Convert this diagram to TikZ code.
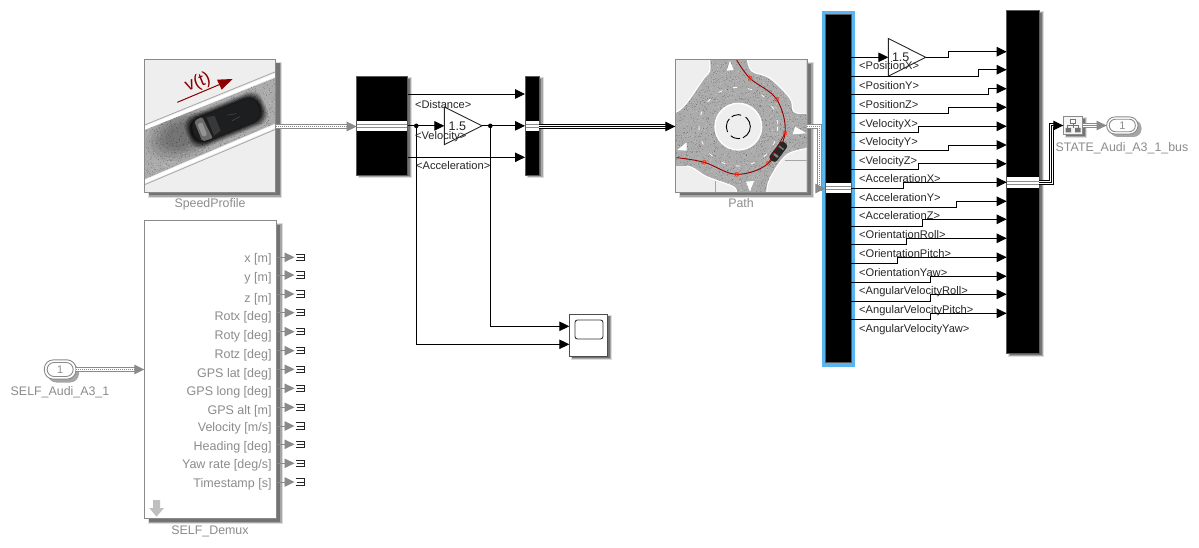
\documentclass[tikz,border=0pt]{standalone}
\usepackage{fontspec}
\setmainfont{Liberation Sans}
\usetikzlibrary{arrows.meta,calc}
\definecolor{fadetxt}{HTML}{8C8C8C}
\definecolor{fadeline}{HTML}{8A8A8A}
\definecolor{lightbg}{HTML}{EEEEEE}
\definecolor{roadg}{HTML}{ABABAB}
\definecolor{selblue}{HTML}{5AB4F0}
\definecolor{darkred}{HTML}{8B0000}
\definecolor{carbody}{HTML}{1C1E20}
\tikzset{
  blockbox/.style={draw=fadeline,line width=1pt,fill=white,inner sep=0pt,outer sep=0pt},
  blackbox/.style={draw=black!65,line width=.8pt,fill=black,inner sep=0pt,outer sep=0pt},
  sig/.style={draw=black,line width=.9pt,-{Triangle[length=10pt,width=9.5pt]}},
  graysig/.style={draw=fadeline,line width=.9pt,-{Triangle[length=10pt,width=9.5pt]}},
  busblack/.style={draw=black,line width=1pt,preaction={draw=black,line width=5pt},preaction={draw=white,line width=3pt}},
  busgray/.style={draw=fadeline,line width=1pt,dash pattern=on 1pt off 1pt,preaction={draw=fadeline,solid,line width=5pt},preaction={draw=white,solid,line width=3pt}},
  siglabel/.style={anchor=west,inner sep=0pt,font=\fontsize{11.1}{12}\selectfont,text=black!85,text height=9pt,text depth=1.5pt},
  fadelabel/.style={inner sep=0pt,font=\fontsize{12.4}{13}\selectfont,text=fadetxt,text height=10.5pt,text depth=1.5pt},
  portlabel/.style={anchor=east,inner sep=0pt,font=\fontsize{12.5}{13}\selectfont,text=fadetxt,text height=10.5pt,text depth=1.5pt},
  gaintext/.style={inner sep=0pt,font=\fontsize{12.5}{13}\selectfont,text=black!85},
  gainshape/.style={draw=black!85,line width=.9pt,fill=white},
  portpill/.style={draw=fadeline,line width=.9pt,fill=white,rounded corners=9pt,inner sep=0pt,outer sep=0pt,font=\fontsize{11}{12}\selectfont,text=fadetxt},
}
\newcommand{\shad}[5][5]{%
  \fill[black,opacity=.13] ({#2+#1-1.5},{#3+#1-2.5}) rectangle ({#4+#1+1.5},{#5+#1+.5});
  \fill[black,opacity=.25] ({#2+#1-.5},{#3+#1-1.5}) rectangle ({#4+#1+.5},{#5+#1-.5});
  \fill[black,opacity=.3] ({#2+#1},{#3+#1-1}) rectangle ({#4+#1-.8},{#5+#1-1.8});
}
\newcommand{\band}[3]{% x1 x2 y
  \fill[white] (#1,{#3-5.2}) rectangle (#2,{#3+5.2});
  \draw[black!45,line width=.8pt] (#1,{#3-1.5}) -- (#2,{#3-1.5}) (#1,{#3+1.5}) -- (#2,{#3+1.5});
}
\newcommand{\noisefill}[5]{% x y w h n
  \foreach \k in {1,...,#5}{
    \pgfmathsetmacro{\nx}{#1+rnd*#3}
    \pgfmathsetmacro{\ny}{#2+rnd*#4}
    \pgfmathsetmacro{\nc}{rnd<.5?"white":"black"}
    \fill[\nc,opacity=.16] (\nx,\ny) rectangle +(1,1);
  }
}
\begin{document}
\begin{tikzpicture}[x=1pt,y=-1pt,line join=miter]
\useasboundingbox (0,0) rectangle (1199,548);
\fill[white] (0,0) rectangle (1199,548);
\pgfmathsetseed{4711}
\coordinate (busy) at (0,126.5);

% ---------- shadows
\shad{144.3}{59.3}{275.7}{192.3}
\shad{675.3}{60}{807}{192.3}
\shad{144.3}{221}{276}{518.3}
\shad[3]{356.7}{76.7}{407.7}{175}
\shad[3]{525}{76.7}{539}{175}
\shad[3]{1006.7}{10.7}{1039.3}{353.3}
\shad[3]{569.3}{314.3}{607.3}{356.7}
\shad[3]{1063.3}{116.7}{1082.7}{134.7}

% ---------- SpeedProfile
\node[blockbox,fill=lightbg,minimum width=131.4pt,minimum height=133pt] (speed) at (210,125.8) {};
\begin{scope}
  \clip (145,129.8) -- (275.5,77.7) -- (275.5,123.3) -- (145,179) -- cycle;
  \fill[roadg] (145,77) rectangle (276,180);
  \noisefill{145}{77}{131}{103}{2500}
  \begin{scope}[shift={(182,135)},rotate=22]
    \foreach \r/\o in {38/.06,33/.07,28/.08,23/.08,18/.08}{
      \fill[black,opacity=\o] (0,0) ellipse ({\r pt} and {\r*.62 pt});
    }
  \end{scope}
\end{scope}
\begin{scope}[shift={(140,55)},x=.3333pt,y=-.3333pt]
  \draw[black!35,line width=.8pt] (14,210) -- (407,50);
  \draw[white,line width=3pt] (14,219) -- (407,60);
  \draw[white,line width=3pt] (14,380) -- (407,213);
  \draw[black!35,line width=.8pt] (14,389) -- (407,223);
\end{scope}
% car
\begin{scope}[shift={(226,120)},rotate=22]
  \foreach \g/\o in {4/.12,3/.16,2/.2,1/.28,0/.35,-1/.45}{
    \fill[black,opacity=\o,rounded corners=12pt] ({-38-\g},{-14-\g}) rectangle ({38+\g},{14+\g});
  }
  \fill[carbody,rounded corners=10pt] (-35,-12) rectangle (35,12);
  \fill[black!58,rounded corners=2pt] (-30,-11) -- (-21,-12) -- (-19,12) -- (-30,11) -- cycle;
  \fill[black!42,rounded corners=2pt] (-28,-7) rectangle (-23,7);
  \fill[black!78] (-17,-10) -- (-9,-8) -- (-9,8) -- (-17,10) -- cycle;
  \draw[black!70,line width=.5pt] (3,-4) -- (12,-2);
  \draw[black!70,line width=.5pt] (5,3) -- (14,2);
\end{scope}
% v(t)
\begin{scope}[shift={(140,55)},x=.3333pt,y=-.3333pt]
  \draw[darkred,line width=1pt] (112,142) -- (240,88);
  \fill[darkred] (278,72) -- (231,74) -- (245,104) -- cycle;
\end{scope}
\node[inner sep=0pt,font=\fontsize{18}{20}\selectfont,text=darkred,rotate=22] (vt) at (198,82.5) {v(t)};
\draw[fadeline,line width=1pt] (speed.north west) rectangle (speed.south east);
\node[fadelabel] (speedlab) at (210,203) {SpeedProfile};

% ---------- Path
\node[blockbox,fill=roadg,minimum width=131.7pt,minimum height=132.3pt] (path) at (741.15,126.15) {};
\begin{scope}
  \clip (675.8,60.5) rectangle (806.5,191.8);
  \noisefill{675.8}{60.5}{131}{132}{3500}
  \begin{scope}[shift={(670,55)},x=.3333pt,y=-.3333pt]
    \tikzset{corner/.style={fill=lightbg,draw=white,line width=1.1pt}}
    \filldraw[corner] plot[smooth,tension=.6] coordinates {(10,176) (45,150) (100,72) (119,48) (118,10)} -- (10,10) -- cycle;
    \filldraw[corner] plot[smooth,tension=.6] coordinates {(232,10) (245,48) (300,70) (360,130) (372,170) (416,178)} -- (416,10) -- cycle;
    \filldraw[corner] plot[smooth,tension=.6] coordinates {(416,280) (350,300) (300,370) (290,416)} -- (416,416) -- cycle;
    \filldraw[corner] plot[smooth,tension=.6] coordinates {(10,332) (60,335) (110,365) (190,395) (198,416)} -- (10,416) -- cycle;
    \draw[black!35,line width=.7pt] (16,176) -- (42,176) (365,178) -- (410,178) (345,317) -- (410,317) (16,332) -- (50,332) (135,378) -- (135,410);
    \fill[white] (170,47) -- (191,45) -- (180,18) -- cycle;
    \fill[white] (368,238) -- (410,235) -- (375,215) -- cycle;
    \fill[white] (228,380) -- (252,378) -- (240,410) -- cycle;
    \fill[white] (22,285) -- (50,262) -- (50,287) -- cycle;
    \draw[white,line width=.8pt,dash pattern=on 4pt off 11pt] (205,215) circle (118);
    \filldraw[fill=lightbg,draw=white,line width=1.4pt] (205,215) circle (70);
    \draw[black,line width=.9pt,dash pattern=on 14pt off 3pt on 10pt off 5pt] (205,215) circle (36);
    \draw[darkred!90!red,line width=.9pt] plot[smooth,tension=.6] coordinates {(200,15) (240,70) (320,133) (345,235) (295,325) (200,358) (103,322) (20,308)};
    \begin{scope}[shift={(325,290)},rotate=53]
      \fill[black!85,rounded corners=3pt] (-33,-13) rectangle (33,13);
      \fill[black!50] (-17,-9) rectangle (-10,9);
      \fill[black!55] (12,-9) rectangle (17,9);
    \end{scope}
    \draw[darkred!90!red,line width=.7pt] (345,235) -- (295,325);
    \foreach \px/\py in {240/70,320/133,345/235,295/325,200/358,103/322}{
      \draw[red!75!orange,line width=.4pt] (\px,\py) circle (6);
      \draw[red!75!orange,line width=.3pt] (\px-5,\py-5) -- (\px+5,\py+5) (\px-5,\py+5) -- (\px+5,\py-5);
    }
  \end{scope}
\end{scope}
\draw[fadeline,line width=1pt] (path.north west) rectangle (path.south east);
\node[fadelabel] (pathlab) at (741,203) {Path};

% ---------- SELF_Demux
\node[blockbox,minimum width=131.7pt,minimum height=297.3pt] (demux) at (210.15,369.65) {};
\fill[black!25] (153,500) -- (160,500) -- (160,508) -- (164,508) -- (156.5,516.7) -- (149.3,508) -- (153,508) -- cycle;
\node[fadelabel] (demuxlab) at (210,530) {SELF\_Demux};
\foreach \i/\ly/\ay/\t in {1/258.3/257.3/{x [m]},2/277.3/275/{y [m]},3/298/294/{z [m]},4/316/312.7/{Rotx [deg]},5/335/331.7/{Roty [deg]},6/354/350.7/{Rotz [deg]},7/373/369.3/{GPS lat [deg]},8/390.7/388.3/{GPS long [deg]},9/410/407.3/{GPS alt [m]},10/427/426/{Velocity [m/s]},11/446/444.3/{Heading [deg]},12/464.3/463.3/{Yaw rate [deg/s]},13/483/482/{Timestamp [s]}}{
  \node[portlabel] (plab\i) at (271.7,\ly) {\t};
  \coordinate (pout\i) at (276,\ay);
  \coordinate (term\i) at (294.5,\ay);
  \draw[graysig] (pout\i) -- (term\i);
  \draw[black!85,line width=.9pt] ($(term\i)+(1.5,-3.2)$) -- ($(term\i)+(9.5,-3.2)$) -- ($(term\i)+(9.5,3.2)$) -- ($(term\i)+(1.5,3.2)$) ($(term\i)+(2,0)$) -- ($(term\i)+(9.5,0)$);
}

% ---------- inport
\fill[black,opacity=.35,rounded corners=9pt] (47.5,363.5) rectangle (79,382.5);
\node[portpill,minimum width=31.7pt,minimum height=19.3pt] (inport) at (60.15,369.5) {};
\node[portpill,minimum width=26pt,minimum height=14pt,rounded corners=7pt] (inportb) at (60.15,369.5) {1};
\node[fadelabel] (inlab) at (60,391) {SELF\_Audi\_A3\_1};
\coordinate (demuxin) at (demux.west |- inport.east);
\draw[busgray] (inport.east) -- ($(demuxin)+(-9,0)$);
\draw[graysig] ($(demuxin)+(-10,0)$) -- (demuxin);

% ---------- first mux, demux
\node[blackbox,minimum width=51pt,minimum height=98.3pt] (mux1) at (382.2,125.85) {};
\node[blackbox,minimum width=14pt,minimum height=98.3pt] (mux2) at (532,125.85) {};
\band{357.2}{407.2}{126.2}
\band{525.5}{538.5}{126.2}
\coordinate (speedout) at (speed.east |- busy);
\coordinate (mux1in) at (mux1.west |- busy);
\draw[busgray] (speedout) -- ($(mux1in)+(-9,0)$);
\draw[graysig] ($(mux1in)+(-10,0)$) -- (mux1in);

\coordinate (dout) at (407.7,94);
\coordinate (din) at (525,94);
\coordinate (aout) at (407.7,157.3);
\coordinate (ain) at (525,157.3);
\draw[sig] (dout) -- (din);
\draw[sig] (aout) -- (ain);
\coordinate (j1) at (416.3,125.85);
\coordinate (j2) at (490.3,125.85);

% gain 1
\node[inner sep=0pt,outer sep=0pt,minimum width=37.7pt,minimum height=37.7pt] (gaina) at (463.15,125.85) {};
\draw[sig] (mux1.east) -- (gaina.west);
\draw[gainshape] (gaina.north west) -- (gaina.east) -- (gaina.south west) -- cycle;
\node[gaintext] (gainatext) at (457.3,126) {1.5};
\draw[sig] (gaina.east) -- (mux2.west);
\fill (j1) circle (2.3);
\fill (j2) circle (2.3);

% scope
\node[blockbox,draw=black!70,minimum width=38pt,minimum height=42.4pt] (scopeb) at (588.3,335.5) {};
\draw[black!80,line width=.9pt,fill=white,rounded corners=2.5pt] (575,320) rectangle (603,339);
\coordinate (sa) at (569.3,326.3);
\coordinate (sb) at (569.3,344.3);
\draw[sig] (j2) |- (sa);
\draw[sig] (j1) |- (sb);

\node[siglabel] (ldist) at (415,104.3) {<Distance>};
\node[siglabel] (lvel) at (415,135.3) {<Velocity>};
\node[siglabel] (lacc) at (416,166) {<Acceleration>};

\coordinate (mux2out) at (mux2.east |- busy);
\coordinate (pathin) at (path.west |- busy);
\draw[busblack] (mux2out) -- ($(pathin)+(-9,0)$);
\draw[sig] ($(pathin)+(-10,0)$) -- (pathin);

% ---------- big demux
\fill[selblue] (822,10.7) rectangle (855,366.7);
\node[blackbox,minimum width=26pt,minimum height=348.7pt] (bigd) at (838.3,188.35) {};
\band{825.6}{851}{188.3}

% ---------- big mux
\node[blackbox,minimum width=32.6pt,minimum height=342.6pt] (bigm) at (1023,182) {};
\band{1007.2}{1038.8}{182.5}

\coordinate (pout) at (807,126.5);
\coordinate (bin) at (825.3,188.5);
\coordinate (bbend) at (819.5,188.5);
\draw[busgray] (pout) -- (819.5,126.5) -- (bbend) -- ($(bin)+(-6,0)$);
\draw[graysig] ($(bin)+(-8,0)$) -- (bin);

% gain 2
\node[inner sep=0pt,outer sep=0pt,minimum width=37.4pt,minimum height=37.7pt] (gainb) at (907,57.3) {};
\coordinate (a1) at (gainb.west -| bigd.east);
\draw[sig] (a1) -- (gainb.west);
\draw[gainshape] (gainb.north west) -- (gainb.east) -- (gainb.south west) -- cycle;
\node[gaintext] (gainbtext) at (900.7,57.3) {1.5};
\coordinate (b1) at (1006.7,51.7);
\draw[sig] (gainb.east) -- (948.3,57.3) |- (b1);

\foreach \i/\ya/\xm/\yb in {2/76.3/978.3/69.7,3/94.3/988.3/88.7,4/113.3/948.3/107.3,5/132.3/918.3/126.3,6/150.7/948.3/145,7/169.3/918.3/163.7,8/188.3/903.3/182.3,9/207.3/956.3/201.3,10/226/922.3/219.3,11/244.3/906.7/238.3,12/263/897.7/257.3,13/282/930.7/276.3,14/301.3/930.7/294.3,15/319/930.7/313.3}{
  \coordinate (a\i) at (851.3,\ya);
  \coordinate (b\i) at (1006.7,\yb);
  \draw[sig] (a\i) -- (\xm,\ya) |- (b\i);
}
\foreach \i/\ly/\t in {1/66/PositionX,2/85.3/PositionY,3/104.3/PositionZ,4/123.3/VelocityX,5/141.7/VelocityY,6/160.3/VelocityZ,7/179/AccelerationX,8/198/AccelerationY,9/216/AccelerationZ,10/235/OrientationRoll,11/253.7/OrientationPitch,12/273/OrientationYaw,13/290.7/AngularVelocityRoll,14/309.7/AngularVelocityPitch,15/329/AngularVelocityYaw}{
  \node[siglabel] (lab\i) at (859,\ly) {<\t>};
}

% ---------- bus creator and outport
\node[blockbox,fill=black!4,minimum width=19.4pt,minimum height=18pt] (busc) at (1073,125.5) {};
\fill[black!55] (1065.5,128) rectangle (1071,132.5) (1075,128) rectangle (1080.5,132.5);
\draw[black!55,line width=.7pt,fill=white] (1070.5,119) rectangle (1075.5,123.5);
\draw[black!55,line width=.7pt] (1073,123.5) -- (1073,128) (1067.5,128) -- (1067.5,125.7) -- (1078,125.7) -- (1078,128);
\coordinate (bout) at (1039.3,182.5);
\draw[busblack] (bout) -- (1051.5,182.5) -- (1051.5,125.5) -- ($(busc.west)+(-8,0)$);
\draw[sig] ($(busc.west)+(-10,0)$) -- (busc.west);

\fill[black,opacity=.35,rounded corners=8pt] (1110,120) rectangle (1141.5,137);
\node[portpill,minimum width=31.4pt,minimum height=17.2pt,rounded corners=8.5pt] (outport) at (1122.3,125.5) {};
\node[portpill,minimum width=26pt,minimum height=12.5pt,rounded corners=6pt] (outportb) at (1122.3,125.5) {1};
\node[fadelabel] (outlab) at (1122,147) {STATE\_Audi\_A3\_1\_bus};
\draw[busgray,dash pattern=] (busc.east) -- ($(outport.west)+(-8,0)$);
\draw[graysig] ($(outport.west)+(-10,0)$) -- (outport.west);
\end{tikzpicture}
\end{document}
